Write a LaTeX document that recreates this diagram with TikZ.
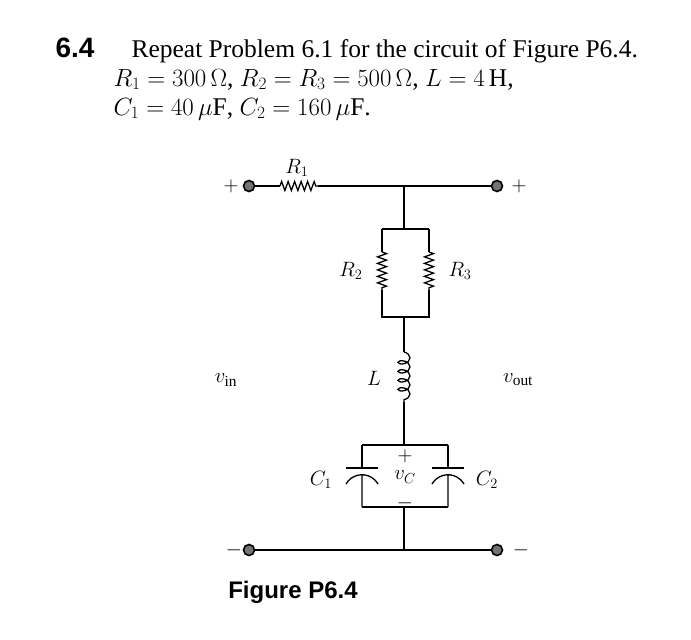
\documentclass[tikz,border=0pt]{standalone}
\usepackage{amsmath}
\usepackage{fontspec}
\setmainfont{Liberation Serif}
\newfontfamily\headsf{Liberation Sans}
\usetikzlibrary{decorations.pathmorphing}

\begin{document}
\begin{tikzpicture}[x=1pt,y=1pt]
    \tikzset{
    term/.style={circle,minimum size=11pt,inner sep=0,fill=black!55,draw=black,line width=1.6},
    w/.style={line width=1.3},
    res/.style={w,decorate,decoration={zigzag,segment length=6.5,amplitude=4.5}},
    coil/.style={w,decorate,decoration={coil,aspect=0.6,segment length=9,amplitude=6}},
    lbl/.style={font=\fontsize{22}{24}\selectfont},
    head/.style={anchor=base west,font=\fontsize{25.5}{28}\selectfont},
    }
    \useasboundingbox (0,0) rectangle (691,-640);
    \node[anchor=base west,font=\headsf\bfseries\fontsize{28}{32}\selectfont] (num) at (52,-57) {6.4};
    \node[head] (l1) at (128,-57) {Repeat Problem 6.1 for the circuit of Figure P6.4.};
    \node[head] (l2) at (110,-86) {$R_1=300\,\Omega$, $R_2=R_3=500\,\Omega$, $L=4\,\mathrm{H}$,};
    \node[head] (l3) at (110,-115) {$C_1=40\,\mu\mathrm{F}$, $C_2=160\,\mu\mathrm{F}$.};

    \node[term] (t1) at (249,-186) {};
    \node[term] (t2) at (497,-186) {};
    \node[term] (t3) at (249,-550) {};
    \node[term] (t4) at (497,-550) {};
    \coordinate (ra) at (280,-186);
    \coordinate (rb) at (318,-186);
    \coordinate (j) at (404,-186);
    \coordinate (pt) at (404,-229);
    \coordinate (p1) at (382,-229);
    \coordinate (p2) at (429,-229);
    \coordinate (p1a) at (382,-252);
    \coordinate (p1b) at (382,-290);
    \coordinate (p2a) at (429,-252);
    \coordinate (p2b) at (429,-290);
    \coordinate (q1) at (382,-317);
    \coordinate (q2) at (429,-317);
    \coordinate (pb) at (404,-317);
    \coordinate (la) at (404,-352);
    \coordinate (lb) at (404,-402);
    \coordinate (ct) at (404,-445);
    \coordinate (c1t) at (362,-445);
    \coordinate (c2t) at (448,-445);
    \coordinate (c1b) at (362,-507);
    \coordinate (c2b) at (448,-507);
    \coordinate (cb) at (404,-507);
    \coordinate (g) at (404,-550);

    \draw[w] (t1) -- (ra);
    \draw[res] (ra) -- (rb);
    \draw[w] (rb) -- (t2);
    \draw[w] (j) -- (pt) (p1) -- (p2) (p1) -- (p1a) (p2) -- (p2a);
    \draw[res] (p1a) -- (p1b);
    \draw[res] (p2a) -- (p2b);
    \draw[w] (p1b) -- (q1) -- (q2) -- (p2b) (pb) -- (la);
    \draw[coil] (la) -- (lb);
    \draw[w] (lb) -- (ct) (c1t) -- (c2t);
    % capacitors
    \draw[w] (c1t) -- ++(0,-23) ++(-16,0) -- ++(32,0);
    \draw[w] (c2t) -- ++(0,-23) ++(-16,0) -- ++(32,0);
    \draw[w] (c1b) -- ++(0,32) ++(-16,-9) arc[start angle=150,end angle=30,radius=18.5];
    \draw[w] (c2b) -- ++(0,32) ++(-16,-9) arc[start angle=150,end angle=30,radius=18.5];
    \draw[w] (c1b) -- (c2b) (cb) -- (g);
    \draw[w] (t3) -- (t4);

    \node[lbl] (lr1) at (297,-168) {$R_1$};
    \node[lbl] (lr2) at (351,-271) {$R_2$};
    \node[lbl] (lr3) at (460,-271) {$R_3$};
    \node[lbl] (ll) at (374,-378) {$L$};
    \node[lbl] (lc1) at (321,-480) {$C_1$};
    \node[lbl] (lc2) at (487,-480) {$C_2$};
    \node[lbl,inner sep=0] (lvc) at (405,-477) {$v_C$};
    \node[lbl,inner sep=0] (lvcp) at (405,-456) {$+$};
    \node[lbl,inner sep=0] (lvcm) at (405,-503) {$-$};
    \node[lbl] (vin) at (226,-380) {$v_{\mathrm{in}}$};
    \node[lbl] (vout) at (518,-380) {$v_{\mathrm{out}}$};
    \node[lbl] (pl) at (231,-186) {$+$};
    \node[lbl] (pr) at (519,-186) {$+$};
    \node[lbl] (ml) at (234,-550) {$-$};
    \node[lbl] (mr) at (521,-550) {$-$};
    \node[font=\headsf\bfseries\fontsize{24}{28}\selectfont] (cap) at (293,-592) {Figure P6.4};
\end{tikzpicture}
\end{document}
